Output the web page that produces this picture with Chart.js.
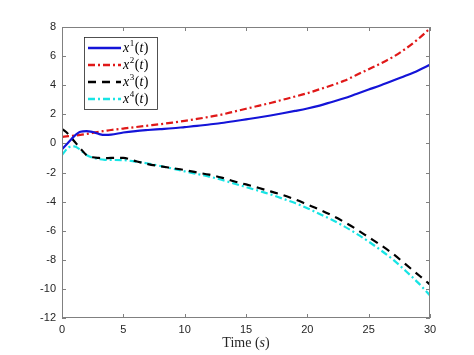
<!DOCTYPE html>
<html><head><meta charset="utf-8">
<script src="https://cdn.jsdelivr.net/npm/chart.js@4.4.1/dist/chart.umd.min.js"></script>
<style>html,body{margin:0;padding:0;background:#fff;}canvas{display:block;}</style>
</head><body>
<canvas id="c" width="474" height="355"></canvas>
<script>
const T  = [0,0.5,1,1.5,2,2.5,3,3.5,4,5,6,7,8,9,10,11,12,13,14,15,16,17,18,19,20,21,22,23,24,25,26,27,28,29,30];
const x1 = [-0.4,0.05,0.5,0.8,0.85,0.78,0.65,0.58,0.6,0.75,0.85,0.92,0.98,1.04,1.12,1.2,1.3,1.4,1.52,1.65,1.78,1.92,2.07,2.23,2.4,2.6,2.85,3.1,3.4,3.7,4.0,4.32,4.65,5.0,5.4];
const x2 = [0.45,0.5,0.54,0.58,0.65,0.72,0.8,0.86,0.92,1.02,1.12,1.22,1.32,1.43,1.55,1.68,1.82,1.98,2.18,2.38,2.58,2.78,3.0,3.22,3.45,3.72,4.0,4.3,4.7,5.1,5.5,5.95,6.5,7.15,7.9];
const x3 = [1.0,0.65,0.15,-0.35,-0.8,-0.95,-1.0,-1.02,-1.0,-1.0,-1.22,-1.42,-1.57,-1.7,-1.83,-2.0,-2.15,-2.35,-2.6,-2.82,-3.05,-3.3,-3.55,-3.85,-4.2,-4.55,-4.95,-5.4,-5.9,-6.45,-7.0,-7.6,-8.3,-9.0,-9.7];
const x4 = [-0.8,-0.3,-0.2,-0.45,-0.8,-0.98,-1.08,-1.13,-1.14,-1.15,-1.25,-1.38,-1.55,-1.73,-1.92,-2.1,-2.28,-2.5,-2.75,-3.0,-3.25,-3.5,-3.8,-4.1,-4.45,-4.85,-5.25,-5.7,-6.2,-6.75,-7.35,-8.0,-8.75,-9.55,-10.45];
const seriesNames = ['1','2','3','4'];
const xTicks = [0,5,10,15,20,25,30];
const yTicks = [-12,-10,-8,-6,-4,-2,0,2,4,6,8];

const pts = arr => T.map((t,i)=>({x:t,y:arr[i]}));
const styles = [
  {c:'#1414d8', d:[]},
  {c:'#e01818', d:[7,3,2,3]},
  {c:'#000000', d:[8,6]},
  {c:'#18e4e4', d:[7,3,2,3]}
];
const datasets = [x1,x2,x3,x4].map((a,i)=>({
  label:'x'+seriesNames[i]+'(t)', data:pts(a), borderColor:styles[i].c, borderDash:styles[i].d,
  borderWidth:2.2, pointRadius:0, cubicInterpolationMode:'monotone', fill:false
}));

const AXC = '#808080';
const framePlugin = {
  id:'frame',
  afterDraw(chart){
    const {ctx, chartArea:a, scales:{x,y}} = chart;
    ctx.save();
    ctx.strokeStyle = AXC; ctx.lineWidth = 1;
    ctx.strokeRect(a.left+0.5, a.top+0.5, a.right-a.left-1, a.bottom-a.top-1);
    ctx.beginPath();
    const tl = 4;
    xTicks.forEach(v=>{const px=Math.round(x.getPixelForValue(v))+0.5;
      ctx.moveTo(px,a.bottom); ctx.lineTo(px,a.bottom-tl);
      ctx.moveTo(px,a.top); ctx.lineTo(px,a.top+tl);});
    yTicks.forEach(v=>{const py=Math.round(y.getPixelForValue(v))+0.5;
      ctx.moveTo(a.left,py); ctx.lineTo(a.left+tl,py);
      ctx.moveTo(a.right,py); ctx.lineTo(a.right-tl,py);});
    ctx.stroke();

    // legend
    const lx=84, ly=37, lw=73, lh=72;
    ctx.fillStyle='#fff'; ctx.fillRect(lx,ly,lw,lh);
    ctx.strokeStyle='#262626'; ctx.lineWidth=0.8;
    ctx.strokeRect(lx+0.5,ly+0.5,lw,lh);
    chart.data.datasets.forEach((ds,i)=>{
      const yy = ly+11+i*17;
      ctx.strokeStyle=ds.borderColor; ctx.lineWidth=2.5; ctx.setLineDash(ds.borderDash);
      ctx.beginPath(); ctx.moveTo(88,yy); ctx.lineTo(121,yy); ctx.stroke();
      ctx.setLineDash([]);
      ctx.fillStyle='#000'; ctx.textBaseline='alphabetic';
      let cx=123; const base=yy+4;
      ctx.font='italic 14px "Liberation Serif"'; ctx.fillText('x',cx,base); cx+=ctx.measureText('x').width+0.5;
      ctx.font='9px "Liberation Serif"'; ctx.fillText(seriesNames[i],cx,base-6); cx+=ctx.measureText(seriesNames[i]).width+0.5;
      ctx.font='14px "Liberation Serif"'; ctx.fillText('(',cx,base); cx+=ctx.measureText('(').width;
      ctx.font='italic 14px "Liberation Serif"'; ctx.fillText('t',cx,base); cx+=ctx.measureText('t').width+0.5;
      ctx.font='14px "Liberation Serif"'; ctx.fillText(')',cx,base);
    });

    // x label
    ctx.fillStyle='#262626';
    const parts=[['Time (','14px "Liberation Serif"'],['s','italic 14px "Liberation Serif"'],[')','14px "Liberation Serif"']];
    let w=0; parts.forEach(p=>{ctx.font=p[1]; w+=ctx.measureText(p[0]).width;});
    let cx=(a.left+a.right)/2 - w/2; const by=347;
    parts.forEach(p=>{ctx.font=p[1]; ctx.fillText(p[0],cx,by); cx+=ctx.measureText(p[0]).width;});
    ctx.restore();
  }
};

new Chart(document.getElementById('c'), {
  type:'line',
  data:{datasets},
  options:{
    responsive:false, animation:false, devicePixelRatio:1,
    layout:{padding:{top:27,right:44,left:0,bottom:0}},
    plugins:{legend:{display:false}, tooltip:{enabled:false}},
    scales:{
      x:{type:'linear', min:0, max:30,
        afterBuildTicks(s){s.ticks=xTicks.map(v=>({value:v}));},
        afterFit(s){s.height=37;},
        grid:{display:false, drawTicks:false}, border:{display:false},
        ticks:{padding:5, color:'#262626', font:{family:'Liberation Sans', size:11}, maxRotation:0}},
      y:{type:'linear', min:-12, max:8,
        afterBuildTicks(s){s.ticks=yTicks.map(v=>({value:v}));},
        afterFit(s){s.width=62;},
        grid:{display:false, drawTicks:false}, border:{display:false},
        ticks:{padding:6, color:'#262626', font:{family:'Liberation Sans', size:11}}}
    }
  },
  plugins:[framePlugin]
});
</script>
</body></html>
